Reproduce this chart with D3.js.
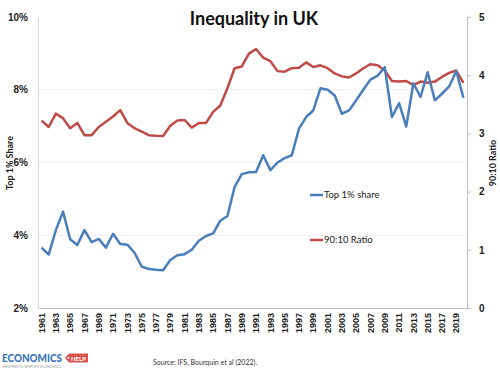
<!DOCTYPE html>
<html>
<head>
<meta charset="utf-8">
<script src="https://cdn.jsdelivr.net/npm/d3@7"></script>
<style>
  body { margin: 0; background: #fff; }
  svg { font-family: Lato, "Open Sans", sans-serif; }
</style>
</head>
<body>
<svg id="chart" width="500" height="373"></svg>
<script>
// years 1961..2020
var years = d3.range(1961, 2021);

// top 1% income share (%)
var topShare = [3.66, 3.47, 4.14, 4.65, 3.89, 3.73, 4.14, 3.81, 3.90, 3.66,
                4.04, 3.76, 3.74, 3.52, 3.14, 3.07, 3.05, 3.04, 3.32, 3.45,
                3.48, 3.60, 3.85, 3.98, 4.05, 4.40, 4.53, 5.33, 5.68, 5.73,
                5.74, 6.20, 5.79, 6.00, 6.12, 6.20, 6.93, 7.25, 7.43, 8.04,
                8.00, 7.84, 7.34, 7.43, 7.71, 8.00, 8.28, 8.39, 8.62, 7.25,
                7.63, 6.99, 8.18, 7.80, 8.48, 7.71, 7.89, 8.09, 8.51, 7.78];

// 90:10 ratio
var ratio9010 = [3.22, 3.11, 3.34, 3.26, 3.09, 3.18, 2.97, 2.97, 3.11, 3.20,
                 3.29, 3.40, 3.18, 3.09, 3.03, 2.97, 2.96, 2.955, 3.13, 3.22,
                 3.23, 3.10, 3.18, 3.18, 3.37, 3.48, 3.78, 4.12, 4.15, 4.37,
                 4.45, 4.30, 4.24, 4.07, 4.06, 4.12, 4.13, 4.22, 4.14, 4.17,
                 4.12, 4.03, 3.98, 3.96, 4.03, 4.12, 4.19, 4.17, 4.08, 3.90,
                 3.89, 3.90, 3.83, 3.89, 3.87, 3.89, 3.97, 4.04, 4.08, 3.87];

var leftTicks = [0.02, 0.04, 0.06, 0.08, 0.10];
var rightTicks = [0, 1, 2, 3, 4, 5];
var yearLabels = years.filter(function(y) { return y % 2 === 1; });

var seriesNames = ["Top 1% share", "90:10 Ratio"];
var blue = "#4a7ebb", red = "#be4b48";

var svg = d3.select("#chart");
var plotL = 38, plotR = 467, plotT = 17, plotB = 308;

var xScale = d3.scaleBand().domain(years).range([plotL, plotR]);
var xc = function(y) { return xScale(y) + xScale.bandwidth() / 2; };
var yLeft = d3.scaleLinear().domain([0.02, 0.10]).range([plotB, plotT]);
var yRight = d3.scaleLinear().domain([0, 5]).range([plotB, plotT]);

// gridlines
svg.append("g").selectAll("line")
    .data(leftTicks.slice(1, 4))
    .enter().append("line")
    .attr("x1", plotL).attr("x2", plotR)
    .attr("y1", function(d) { return yLeft(d); })
    .attr("y2", function(d) { return yLeft(d); })
    .attr("stroke", "#eeeeee").attr("stroke-width", 1);

// left axis
var ax = svg.append("g")
    .attr("transform", "translate(" + plotL + ",0)")
    .call(d3.axisLeft(yLeft).tickValues(leftTicks).tickSize(0).tickPadding(10)
        .tickFormat(d3.format(".0%")));
ax.select(".domain").attr("stroke", "#d9d9d9");
ax.selectAll("text").attr("font-size", 10).attr("font-weight", "bold").attr("fill", "#222");

// right axis
var ar = svg.append("g")
    .attr("transform", "translate(" + plotR + ",0)")
    .call(d3.axisRight(yRight).tickValues(rightTicks).tickSize(4).tickPadding(8)
        .tickFormat(d3.format("d")));
ar.select(".domain").attr("stroke", "#bfbfbf");
ar.selectAll("line").attr("stroke", "#bfbfbf");
ar.selectAll("text").attr("font-size", 10).attr("font-weight", "bold").attr("fill", "#222");

// bottom axis
var ab = svg.append("g")
    .attr("transform", "translate(0," + plotB + ")")
    .call(d3.axisBottom(xScale).tickValues(yearLabels).tickSize(0).tickPadding(0));
ab.select(".domain").attr("stroke", "#bfbfbf");
ab.selectAll("text")
    .attr("font-size", 9).attr("font-weight", "bold").attr("fill", "#222")
    .attr("transform", "rotate(-90)")
    .attr("text-anchor", "end")
    .attr("x", -5).attr("y", 0).attr("dy", "0.35em");

// lines
var lineTop = d3.line()
    .x(function(d, i) { return xc(years[i]); })
    .y(function(d) { return yLeft(d / 100); });
var lineRatio = d3.line()
    .x(function(d, i) { return xc(years[i]); })
    .y(function(d) { return yRight(d); });

svg.append("path").datum(ratio9010)
    .attr("d", lineRatio).attr("fill", "none")
    .attr("stroke", red).attr("stroke-width", 2.5).attr("stroke-linejoin", "round");
svg.append("path").datum(topShare)
    .attr("d", lineTop).attr("fill", "none")
    .attr("stroke", blue).attr("stroke-width", 2.5).attr("stroke-linejoin", "round");

// legend
var leg = svg.append("g").selectAll("g")
    .data(seriesNames)
    .enter().append("g")
    .attr("transform", function(d, i) { return "translate(310," + (195 + i * 45) + ")"; });
leg.append("line").attr("x1", 0).attr("x2", 13)
    .attr("stroke", function(d, i) { return i === 0 ? blue : red; })
    .attr("stroke-width", 2.5);
leg.append("text").attr("x", 14).attr("dy", "0.35em")
    .attr("font-size", 9.5).attr("fill", "#222")
    .text(function(d) { return d; });

// title + axis titles
svg.append("text").attr("x", 254).attr("y", 25)
    .attr("text-anchor", "middle").attr("font-size", 18).attr("font-weight", "bold")
    .attr("fill", "#111").text("Inequality in UK");
svg.append("text").attr("transform", "translate(13,163) rotate(-90)")
    .attr("text-anchor", "middle").attr("font-size", 9).attr("font-weight", "bold")
    .attr("fill", "#222").text("Top 1% Share");
svg.append("text").attr("transform", "translate(496,163) rotate(-90)")
    .attr("text-anchor", "middle").attr("font-size", 9).attr("font-weight", "bold")
    .attr("fill", "#222").text("90:10 Ratio");

// source
svg.append("text").attr("x", 153).attr("y", 365)
    .attr("font-size", 7).attr("fill", "#333")
    .text("Source: IFS, Bourquin et al (2022).");

// logo
var logo = svg.append("g").attr("transform", "translate(2,353)");
logo.append("text").attr("x", 0).attr("y", 9)
    .attr("font-size", 10.5).attr("font-weight", 900).attr("fill", "#3a76b8")
    .attr("textLength", 60).attr("lengthAdjust", "spacingAndGlyphs")
    .text("ECONOMICS");
logo.append("path")
    .attr("d", "M63,5 L67,0.5 L86,0.5 L86,9.5 L67,9.5 Z")
    .attr("fill", "#d9534f");
logo.append("circle").attr("cx", 66.5).attr("cy", 5).attr("r", 1).attr("fill", "#fff");
logo.append("text").attr("x", 69).attr("y", 7.5)
    .attr("font-size", 6).attr("font-weight", "bold").attr("fill", "#fff")
    .text("HELP");
logo.append("text").attr("x", 1).attr("y", 15)
    .attr("font-size", 3.5).attr("fill", "#999")
    .attr("textLength", 58).attr("lengthAdjust", "spacingAndGlyphs")
    .text("HELPING TO SIMPLIFY ECONOMICS");
</script>
</body>
</html>
